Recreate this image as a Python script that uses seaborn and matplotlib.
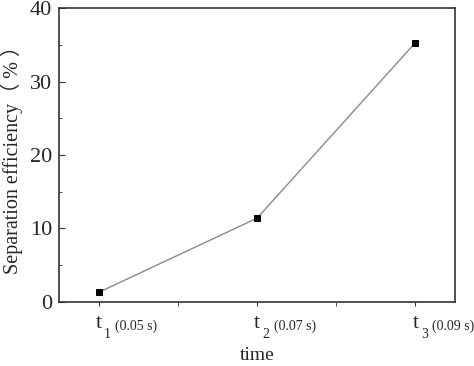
import matplotlib
matplotlib.use("Agg")
import matplotlib.pyplot as plt
import seaborn as sns
import pandas as pd
from matplotlib.ticker import MultipleLocator

# Data
positions = [1, 2, 3]
subscripts = ["1", "2", "3"]
time_notes = ["(0.05 s)", "(0.07 s)", "(0.09 s)"]
efficiency = [1.3, 11.4, 35.3]

df = pd.DataFrame({"pos": positions, "eff": efficiency})

sns.set_style("ticks")
plt.rcParams["font.family"] = ["Liberation Serif", "Noto Sans CJK SC"]

fig, ax = plt.subplots(figsize=(4.74, 3.66), dpi=100)
fig.subplots_adjust(left=0.1245, right=0.96, top=0.978, bottom=0.175)

sns.lineplot(data=df, x="pos", y="eff", ax=ax, color="#8a8a8a", linewidth=1.0,
             marker="s", markersize=5, markerfacecolor="black",
             markeredgecolor="black", zorder=3)

ax.set_xlim(0.75, 3.25)
ax.set_ylim(0, 40)
ax.yaxis.set_major_locator(MultipleLocator(10))
ax.yaxis.set_minor_locator(MultipleLocator(5))
ax.set_xticks(positions)
ax.set_xticks([1.5, 2.5], minor=True)
ax.set_xticklabels(["t"] * 3, fontsize=16)

ax.tick_params(axis="y", which="both", direction="in", labelsize=16, pad=5,
               color="#333333")
ax.tick_params(axis="y", which="major", length=4)
ax.tick_params(axis="y", which="minor", length=2.5)
ax.tick_params(axis="x", which="both", direction="out", length=3, pad=6,
               color="#333333")

for x, sub, note in zip(positions, subscripts, time_notes):
    ax.annotate(sub, xy=(x, 0), xycoords=("data", "axes fraction"),
                xytext=(4, -19), textcoords="offset points",
                ha="left", va="top", fontsize=10)
    ax.annotate(note, xy=(x, 0), xycoords=("data", "axes fraction"),
                xytext=(12, -13), textcoords="offset points",
                ha="left", va="top", fontsize=10)

for s in ax.spines.values():
    s.set_visible(True)
    s.set_color("#333333")
    s.set_linewidth(1.2)

ax.set_xlabel("time", fontsize=14, labelpad=10)
ax.set_ylabel("Separation efficiency（ % ）", fontsize=14.5, labelpad=5)

plt.savefig("out.png", dpi=100)
